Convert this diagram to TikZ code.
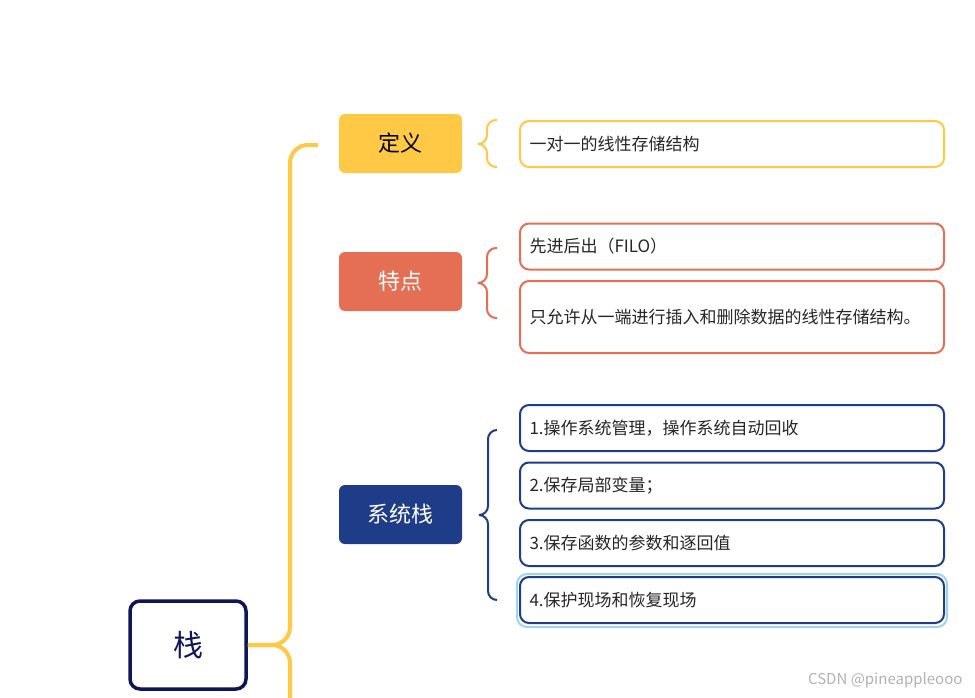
\documentclass[tikz,border=0pt]{standalone}
\usepackage{fontspec}
\setmainfont{Noto Sans CJK SC}
\definecolor{yel}{HTML}{FFC845}
\definecolor{cor}{HTML}{E56F55}
\definecolor{nav}{HTML}{1F3C88}
\definecolor{rootc}{HTML}{10145A}
\definecolor{hl}{HTML}{9FD3F5}
\tikzset{
 topic/.style={rounded corners=6pt,minimum width=123pt,minimum height=59pt,inner sep=0pt,font=\fontsize{22}{26}\selectfont},
 leaf/.style={draw,line width=2pt,rounded corners=9pt,fill=white,minimum width=424pt,minimum height=46pt,text width=405pt,align=left,inner sep=0pt,font=\fontsize{17}{22}\selectfont,text=black!85},
 brace/.style={line width=2pt,rounded corners=9pt}
}
\begin{document}
\begin{tikzpicture}[x=1pt,y=-1pt]
\useasboundingbox[fill=white] (0,0) rectangle (975,697);
% root
\node[draw=rootc,line width=3.5pt,rounded corners=10pt,minimum width=116pt,minimum height=88pt,font=\fontsize{30}{34}\selectfont,text=rootc] (root) at (188,645) {栈};
% big brace
\draw[yel,line width=4pt,rounded corners=18pt] (318,145) -- (290,145) -- (290,645) -- (root.east);
\draw[yel,line width=4pt,rounded corners=18pt] (root.east) -- (290,645) -- (290,720);
% topics
\node[topic,fill=yel,text=black] (def) at (400.5,143.5) {定义};
\node[topic,fill=cor,text=white] (feat) at (400.5,281.5) {特点};
\node[topic,fill=nav,text=white] (sys) at (400.5,514.5) {系统栈};
% leaves
\node[leaf,draw=yel] (l1) at (732,144) {一对一的线性存储结构};
\node[leaf,draw=cor] (l2) at (732,246.5) {先进后出（FILO）};
\node[leaf,draw=cor,minimum height=72pt] (l3) at (732,317) {只允许从一端进行插入和删除数据的线性存储结构。};
\node[leaf,draw=nav] (l4) at (732,428) {1.操作系统管理，操作系统自动回收};
\node[leaf,draw=nav] (l5) at (732,485.5) {2.保存局部变量；};
\node[leaf,draw=nav] (l6) at (732,543) {3.保存函数的参数和逐回值};
\draw[hl,line width=2pt,rounded corners=10pt] (517,574) rectangle (947,627);
\node[leaf,draw=nav] (l7) at (732,600) {4.保护现场和恢复现场};
% small braces
\draw[brace,yel] (497,120) -- (487,120) -- (487,144) -- (479,144);
\draw[brace,yel] (479,144) -- (487,144) -- (487,167) -- (497,167);
\draw[brace,cor] (497,248) -- (487,248) -- (487,283) -- (479,283);
\draw[brace,cor] (479,283) -- (487,283) -- (487,318) -- (497,318);
\draw[brace,nav] (497,430) -- (488,430) -- (488,515) -- (479,515);
\draw[brace,nav] (479,515) -- (488,515) -- (488,600) -- (497,600);
\node[anchor=east,text=black!30,font=\fontsize{15}{18}\selectfont] (wm) at (966,680) {CSDN @pineappleooo};
\end{tikzpicture}
\end{document}
